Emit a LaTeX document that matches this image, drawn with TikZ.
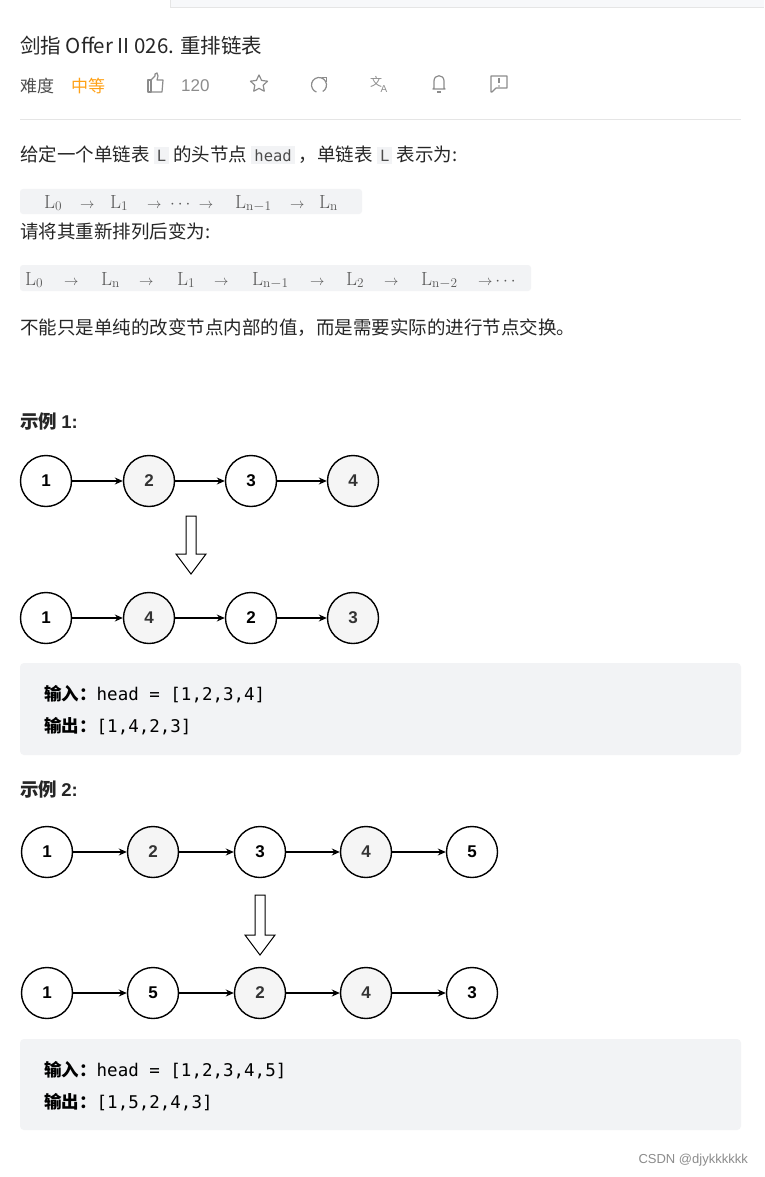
\documentclass[tikz,border=0pt]{standalone}
\usepackage{fontspec}
\newfontfamily\sans{Liberation Sans}
\newfontfamily\cjk{Noto Sans CJK SC}
\setmonofont{DejaVu Sans Mono}
\usetikzlibrary{arrows.meta}
\definecolor{codebg}{HTML}{F2F3F5}
\definecolor{txt}{HTML}{262626}
\definecolor{grey}{HTML}{8C8C8C}
\definecolor{orng}{HTML}{FFA116}
\definecolor{nodegray}{HTML}{F5F5F5}
\definecolor{topbar}{HTML}{F7F8FA}
\tikzset{
  ln/.style={circle,draw=black,line width=1.4pt,minimum size=51pt,inner sep=0pt,font=\sans\fontsize{17}{17}\selectfont\bfseries,fill=white},
  lg/.style={ln,fill=nodegray,text=black!80},
  lk/.style={-{Stealth[length=8pt,width=7pt]},line width=1.2pt},
  tx/.style={anchor=west,inner sep=0pt,text=txt,font=\cjk\fontsize{18.5}{20}\selectfont},
  ic/.style={draw=grey,line width=1.2pt},
  mt/.style={anchor=base west,inner sep=0pt,text=black!65,font=\fontsize{19}{20}\selectfont},
  downarr/.style={draw=black,line width=1pt,fill=white},
  cd/.style={tx,font=\ttfamily\fontsize{17.5}{18}\selectfont,text=black}
}
\newcommand{\ic}[1]{\colorbox{codebg}{\ttfamily\fontsize{15.5}{16}\selectfont\color{black!70}#1}}
\newcommand{\ra}{{\scriptstyle\rightarrow}}
\begin{document}
\begin{tikzpicture}[x=1pt,y=-1pt]
\useasboundingbox (0,0) rectangle (764,1177);
\fill[white] (0,0) rectangle (764,1177);
\fill[topbar] (170,0) rectangle (764,7);
\draw[black!10] (170,7) -- (764,7);
\draw[black!10] (170,0) -- (170,7);
% title
\node[tx,font=\cjk\fontsize{20.5}{22}\selectfont] (title) at (20,46) {剑指 Offer II 026. 重排链表};
\node[tx,text=black!70,font=\cjk\fontsize{17}{18}\selectfont] (diff) at (20,86) {难度};
\node[tx,text=orng,font=\cjk\fontsize{17}{18}\selectfont] (mid) at (71,86) {中等};
% thumb icon
\draw[ic,line join=round] (148,92) -- (148,80) -- (151,80) -- (151,92) -- cycle;
\draw[ic,line join=round] (151,80) -- (155,76) -- (155,74) -- (157,73) -- (158,76) -- (157,80) -- (163,80) -- (162,92) -- (151,92);
\node[tx,text=grey,font=\sans\fontsize{17}{18}\selectfont] (likes) at (181,86) {120};
% star
\draw[ic,line join=round] (259,75) -- (261.6,80.4) -- (267.5,81.2) -- (263.2,85.3) -- (264.3,91.2) -- (259,88.4) -- (253.7,91.2) -- (254.8,85.3) -- (250.5,81.2) -- (256.4,80.4) -- cycle;
% refresh
\draw[ic] (319,85) ++(60:7.5) arc[start angle=60,end angle=-250,radius=7.5];
\draw[ic] (321.5,77.5) -- (326.5,77.5) -- (326.5,82.5);
% translate
\node[inner sep=0pt,text=grey,font=\cjk\fontsize{12}{12}\selectfont] (tr) at (376,82) {文};
\node[inner sep=0pt,text=grey,font=\sans\fontsize{10}{10}\selectfont] (tra) at (384,89) {A};
% bell
\draw[ic,line join=round] (433,89) -- (434,88) -- (434,81) .. controls (434,74) and (444,74) .. (444,81) -- (444,88) -- (445,89) -- cycle;
\draw[ic] (437,92) -- (441,92);
% feedback
\draw[ic,line join=round] (491,76) -- (507,76) -- (507,88) -- (496,88) -- (492,92) -- (491,92) -- cycle;
\draw[grey,line width=1.4pt] (499,78.5) -- (499,83.5);
\fill[grey] (499,86) circle (0.9);
\draw[black!10] (20,119) -- (741,119);
% paragraph
\node[tx] (p1) at (20,155) {给定一个单链表 \ic{L} 的头节点 \ic{head} ，单链表 \ic{L} 表示为:};
\fill[codebg,rounded corners=3pt] (20,189) rectangle (362,214);
\node[mt] (f1a) at (44,208) {$\mathrm{L_0}$};
\node[mt] (f1b) at (80,208) {$\ra$};
\node[mt] (f1c) at (110,208) {$\mathrm{L_1}$};
\node[mt] (f1d) at (147,208) {$\ra\ \cdots\ \ra$};
\node[mt] (f1e) at (235,208) {$\mathrm{L_{n-1}}$};
\node[mt] (f1f) at (290,208) {$\ra$};
\node[mt] (f1g) at (319,208) {$\mathrm{L_n}$};
\node[tx] (p2) at (20,231) {请将其重新排列后变为:};
\fill[codebg,rounded corners=3pt] (20,265) rectangle (531,291);
\node[mt] (f2a) at (25,285) {$\mathrm{L_0}$};
\node[mt] (f2b) at (64,285) {$\ra$};
\node[mt] (f2c) at (101,285) {$\mathrm{L_n}$};
\node[mt] (f2d) at (139,285) {$\ra$};
\node[mt] (f2e) at (177,285) {$\mathrm{L_1}$};
\node[mt] (f2f) at (214,285) {$\ra$};
\node[mt] (f2g) at (252,285) {$\mathrm{L_{n-1}}$};
\node[mt] (f2h) at (310,285) {$\ra$};
\node[mt] (f2i) at (346,285) {$\mathrm{L_2}$};
\node[mt] (f2j) at (384,285) {$\ra$};
\node[mt] (f2k) at (421,285) {$\mathrm{L_{n-2}}$};
\node[mt] (f2l) at (478,285) {$\ra\cdots$};
\node[tx] (p3) at (20,328) {不能只是单纯的改变节点内部的值，而是需要实际的进行节点交换。};
% example 1
\node[tx,font=\cjk\fontsize{18.5}{20}\selectfont\bfseries] (e1) at (20,421) {示例 {\sans\bfseries 1:}};
\node[ln] (a1) at (46,481) {1};
\node[lg] (a2) at (149,481) {2};
\node[ln] (a3) at (251,481) {3};
\node[lg] (a4) at (353,481) {4};
\draw[lk] (a1) -- (a2); \draw[lk] (a2) -- (a3); \draw[lk] (a3) -- (a4);
\draw[downarr] (186,516) -- (196,516) -- (196,554) -- (206,554) -- (191,574) -- (176,554) -- (186,554) -- cycle;
\node[ln] (b1) at (46,618) {1};
\node[lg] (b2) at (149,618) {4};
\node[ln] (b3) at (251,618) {2};
\node[lg] (b4) at (353,618) {3};
\draw[lk] (b1) -- (b2); \draw[lk] (b2) -- (b3); \draw[lk] (b3) -- (b4);
\fill[codebg,rounded corners=4pt] (20,663) rectangle (741,755);
\node[cd] (c1) at (44,694) {{\cjk\bfseries 输入：}head = [1,2,3,4]};
\node[cd] (c2) at (44,726) {{\cjk\bfseries 输出：}[1,4,2,3]};
% example 2
\node[tx,font=\cjk\fontsize{18.5}{20}\selectfont\bfseries] (e2) at (20,789) {示例 {\sans\bfseries 2:}};
\node[ln] (d1) at (47,852) {1};
\node[lg] (d2) at (153,852) {2};
\node[ln] (d3) at (260,852) {3};
\node[lg] (d4) at (366,852) {4};
\node[ln] (d5) at (472,852) {5};
\draw[lk] (d1) -- (d2); \draw[lk] (d2) -- (d3); \draw[lk] (d3) -- (d4); \draw[lk] (d4) -- (d5);
\draw[downarr] (255,895) -- (265,895) -- (265,935) -- (275,935) -- (260,955) -- (245,935) -- (255,935) -- cycle;
\node[ln] (g1) at (47,993) {1};
\node[ln] (g2) at (153,993) {5};
\node[lg] (g3) at (260,993) {2};
\node[lg] (g4) at (366,993) {4};
\node[ln] (g5) at (472,993) {3};
\draw[lk] (g1) -- (g2); \draw[lk] (g2) -- (g3); \draw[lk] (g3) -- (g4); \draw[lk] (g4) -- (g5);
\fill[codebg,rounded corners=4pt] (20,1039) rectangle (741,1130);
\node[cd] (c3) at (44,1070) {{\cjk\bfseries 输入：}head = [1,2,3,4,5]};
\node[cd] (c4) at (44,1102) {{\cjk\bfseries 输出：}[1,5,2,4,3]};
\node[anchor=east,inner sep=0pt,text=grey,font=\sans\fontsize{13}{14}\selectfont] (csdn) at (748,1160) {CSDN @djykkkkkk};
\end{tikzpicture}
\end{document}
